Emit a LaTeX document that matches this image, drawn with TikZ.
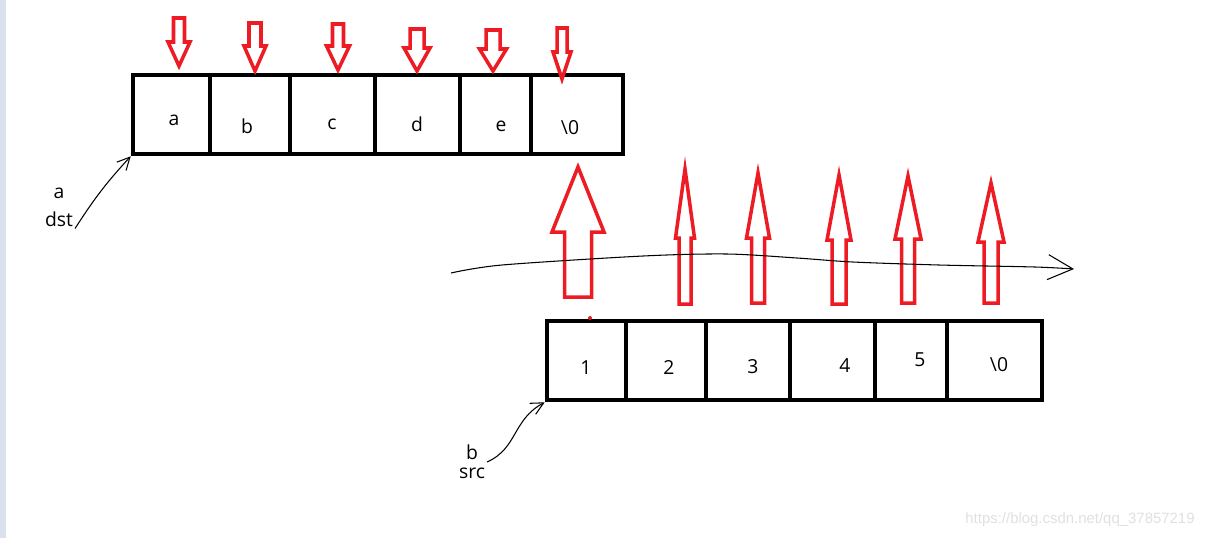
\documentclass[tikz,border=0pt]{standalone}
\usepackage{fontspec}
\setmainfont{Open Sans}
\newfontfamily\wmfont{Liberation Sans}
\usetikzlibrary{positioning,arrows.meta,calc}
\definecolor{paintred}{RGB}{237,28,36}
\definecolor{wmgrey}{gray}{0.88}
\definecolor{edgeblue}{RGB}{218,225,236}
\tikzset{
  cell/.style={draw,line width=2.6pt,minimum height=1.58cm,inner sep=0pt},
  lbl/.style={font=\fontsize{11}{13}\selectfont,inner sep=1pt},
  hollow/.style={draw=paintred,line width=2pt,line join=miter},
  ptr/.style={-{Straight Barb[length=2.5mm,width=2.5mm]},line width=0.6pt},
}

\begin{document}
\begin{tikzpicture}[x=0.02cm,y=-0.02cm]
\useasboundingbox (0,0) rectangle (1212,538);
\fill[edgeblue] (0,0) rectangle (6,538);

% dst array
\foreach \l/\r [count=\i] in {133/210,210/290,290/375,375/460,460/531,531/623}
  \node[cell,minimum width={(\r-\l)*0.02cm}] (a\i) at ({(\l+\r)/2},114.5) {};
\foreach \x/\y/\t [count=\i] in {174/120/a,247/126/b,332/124/c,417/124/d,501/126/e,570/128/\textbackslash 0}
  \node[lbl] (la\i) at (\x,\y) {\t};

% src array
\foreach \l/\r [count=\i] in {547/626,626/706,706/790,790/875,875/947,947/1042}
  \node[cell,minimum width={(\r-\l)*0.02cm}] (b\i) at ({(\l+\r)/2},360.5) {};
\foreach \x/\y/\t [count=\i] in {586/368/1,669/367/2,753/367/3,845/366/4,920/360/5,999/365/\textbackslash 0}
  \node[lbl] (lb\i) at (\x,\y) {\t};

% hollow arrows: centre / start / head base / tip / half shaft / half head
\foreach \cx/\s/\hb/\tp/\sw/\hw in {179/18/42/66/5.5/11,255/23/46/71/6/11,
    338/24/46/70/5.5/11.5,417/29/48/71/7/13,493/30/49/71/7/13.5,562/28/52/79/5/9,
    578/297/232/167/13.5/26,685/304/238/169/6/9.5,758/303/238/173/6.5/11.5,
    839/304/240/175/7/12,908/303/239/176/6.5/13,991/303/242/183/7/13}
  \draw[hollow] ({\cx-\sw},\s) -- ({\cx+\sw},\s) -- ({\cx+\sw},\hb) -- ({\cx+\hw},\hb)
    -- (\cx,\tp) -- ({\cx-\hw},\hb) -- ({\cx-\sw},\hb) -- cycle;
\fill[paintred] (590,318) circle (2);

% wavy line
\coordinate (wstart) at (451,273);
\coordinate (wend) at (1074,269);
\draw[line width=0.6pt,-{Straight Barb[length=5mm,width=5mm]}] plot[smooth] coordinates
  {(wstart) (502,265) (643,256) (727,254) (797,258) (853,262) (939,265) (1035,267) (wend)};

% pointers
\node[lbl,align=center] (dstlbl) at (59,207) {a\\[3pt]dst};
\draw[ptr] (dstlbl.south east) to[bend left=5] (a1.south west);
\node[lbl,align=center] (srclbl) at (472,462) {b\\[-2pt]src};
\draw[ptr] (srclbl.east) .. controls (518,448) and (512,420) .. (b1.south west);

\node[font=\wmfont\fontsize{8.5}{10}\selectfont,text=wmgrey] (wm) at (1080,520) {https://blog.csdn.net/qq\_37857219};
\end{tikzpicture}
\end{document}
